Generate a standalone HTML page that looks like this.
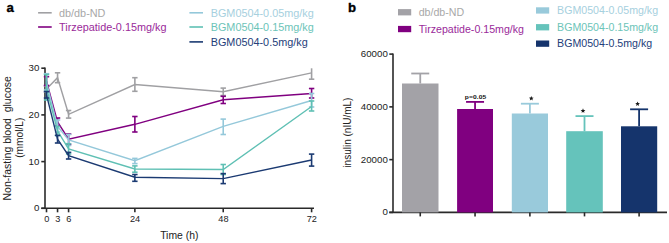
<!DOCTYPE html>
<html><head><meta charset="utf-8"><style>
html,body{margin:0;padding:0;background:#fff;width:669px;height:243px;overflow:hidden}
svg{display:block;font-family:"Liberation Sans",sans-serif}
</style></head><body>
<svg width="669" height="243" viewBox="0 0 669 243">
<line x1="45.00" y1="67.40" x2="45.00" y2="209.00" stroke="#2a2a2a" stroke-width="1.6" stroke-linecap="butt"/>
<line x1="41.30" y1="208.30" x2="314.00" y2="208.30" stroke="#2a2a2a" stroke-width="1.6" stroke-linecap="butt"/>
<line x1="41.30" y1="208.30" x2="45.00" y2="208.30" stroke="#2a2a2a" stroke-width="1.6" stroke-linecap="butt"/>
<text x="39.3" y="211.20000000000002" font-size="9.7" fill="#222" text-anchor="end" font-weight="normal" >0</text>
<line x1="41.30" y1="161.60" x2="45.00" y2="161.60" stroke="#2a2a2a" stroke-width="1.6" stroke-linecap="butt"/>
<text x="39.3" y="164.50000000000003" font-size="9.7" fill="#222" text-anchor="end" font-weight="normal" >10</text>
<line x1="41.30" y1="114.90" x2="45.00" y2="114.90" stroke="#2a2a2a" stroke-width="1.6" stroke-linecap="butt"/>
<text x="39.3" y="117.80000000000001" font-size="9.7" fill="#222" text-anchor="end" font-weight="normal" >20</text>
<line x1="41.30" y1="68.20" x2="45.00" y2="68.20" stroke="#2a2a2a" stroke-width="1.6" stroke-linecap="butt"/>
<text x="39.3" y="71.10000000000002" font-size="9.7" fill="#222" text-anchor="end" font-weight="normal" >30</text>
<line x1="46.50" y1="208.30" x2="46.50" y2="212.30" stroke="#2a2a2a" stroke-width="1.6" stroke-linecap="butt"/>
<text x="46.7" y="222.1" font-size="9.2" fill="#222" text-anchor="middle" font-weight="normal" >0</text>
<line x1="57.55" y1="208.30" x2="57.55" y2="212.30" stroke="#2a2a2a" stroke-width="1.6" stroke-linecap="butt"/>
<text x="57.74583333333334" y="222.1" font-size="9.2" fill="#222" text-anchor="middle" font-weight="normal" >3</text>
<line x1="68.59" y1="208.30" x2="68.59" y2="212.30" stroke="#2a2a2a" stroke-width="1.6" stroke-linecap="butt"/>
<text x="68.79166666666667" y="222.1" font-size="9.2" fill="#222" text-anchor="middle" font-weight="normal" >6</text>
<line x1="134.87" y1="208.30" x2="134.87" y2="212.30" stroke="#2a2a2a" stroke-width="1.6" stroke-linecap="butt"/>
<text x="135.06666666666666" y="222.1" font-size="9.2" fill="#222" text-anchor="middle" font-weight="normal" >24</text>
<line x1="223.23" y1="208.30" x2="223.23" y2="212.30" stroke="#2a2a2a" stroke-width="1.6" stroke-linecap="butt"/>
<text x="223.43333333333334" y="222.1" font-size="9.2" fill="#222" text-anchor="middle" font-weight="normal" >48</text>
<line x1="311.60" y1="208.30" x2="311.60" y2="212.30" stroke="#2a2a2a" stroke-width="1.6" stroke-linecap="butt"/>
<text x="311.8" y="222.1" font-size="9.2" fill="#222" text-anchor="middle" font-weight="normal" >72</text>
<text x="179.3" y="238.8" font-size="10.4" fill="#222" text-anchor="middle" font-weight="normal" >Time (h)</text>
<text transform="translate(10.8 138.3) rotate(-90)" font-size="10.5" fill="#222" text-anchor="middle" xml:space="preserve">Non-fasting blood  glucose</text>
<text transform="translate(22.6 137.7) rotate(-90)" font-size="10.2" fill="#222" text-anchor="middle">(mmol/L)</text>
<g>
<path d="M46.50 89.00 L57.55 77.70 L68.59 114.30 L134.87 84.50 L223.23 91.80 L311.60 72.90" fill="none" stroke="#a0a0a3" stroke-width="1.4"/>
<line x1="46.50" y1="86.00" x2="46.50" y2="92.00" stroke="#a0a0a3" stroke-width="1.6" stroke-linecap="butt"/>
<line x1="43.80" y1="86.00" x2="49.20" y2="86.00" stroke="#a0a0a3" stroke-width="1.6" stroke-linecap="butt"/>
<line x1="43.80" y1="92.00" x2="49.20" y2="92.00" stroke="#a0a0a3" stroke-width="1.6" stroke-linecap="butt"/>
<line x1="57.55" y1="72.80" x2="57.55" y2="82.70" stroke="#a0a0a3" stroke-width="1.6" stroke-linecap="butt"/>
<line x1="54.85" y1="72.80" x2="60.25" y2="72.80" stroke="#a0a0a3" stroke-width="1.6" stroke-linecap="butt"/>
<line x1="54.85" y1="82.70" x2="60.25" y2="82.70" stroke="#a0a0a3" stroke-width="1.6" stroke-linecap="butt"/>
<line x1="68.59" y1="110.50" x2="68.59" y2="118.10" stroke="#a0a0a3" stroke-width="1.6" stroke-linecap="butt"/>
<line x1="65.89" y1="110.50" x2="71.29" y2="110.50" stroke="#a0a0a3" stroke-width="1.6" stroke-linecap="butt"/>
<line x1="65.89" y1="118.10" x2="71.29" y2="118.10" stroke="#a0a0a3" stroke-width="1.6" stroke-linecap="butt"/>
<line x1="134.87" y1="77.70" x2="134.87" y2="91.30" stroke="#a0a0a3" stroke-width="1.6" stroke-linecap="butt"/>
<line x1="132.17" y1="77.70" x2="137.57" y2="77.70" stroke="#a0a0a3" stroke-width="1.6" stroke-linecap="butt"/>
<line x1="132.17" y1="91.30" x2="137.57" y2="91.30" stroke="#a0a0a3" stroke-width="1.6" stroke-linecap="butt"/>
<line x1="223.23" y1="88.10" x2="223.23" y2="95.50" stroke="#a0a0a3" stroke-width="1.6" stroke-linecap="butt"/>
<line x1="220.53" y1="88.10" x2="225.93" y2="88.10" stroke="#a0a0a3" stroke-width="1.6" stroke-linecap="butt"/>
<line x1="220.53" y1="95.50" x2="225.93" y2="95.50" stroke="#a0a0a3" stroke-width="1.6" stroke-linecap="butt"/>
<line x1="311.60" y1="68.30" x2="311.60" y2="79.20" stroke="#a0a0a3" stroke-width="1.6" stroke-linecap="butt"/>
<line x1="308.90" y1="79.20" x2="314.30" y2="79.20" stroke="#a0a0a3" stroke-width="1.6" stroke-linecap="butt"/>
<path d="M46.50 81.10 L57.55 122.00 L68.59 139.20 L134.87 124.30 L223.23 99.80 L311.60 93.50" fill="none" stroke="#800080" stroke-width="1.4"/>
<line x1="46.50" y1="76.70" x2="46.50" y2="85.50" stroke="#800080" stroke-width="1.6" stroke-linecap="butt"/>
<line x1="43.80" y1="76.70" x2="49.20" y2="76.70" stroke="#800080" stroke-width="1.6" stroke-linecap="butt"/>
<line x1="43.80" y1="85.50" x2="49.20" y2="85.50" stroke="#800080" stroke-width="1.6" stroke-linecap="butt"/>
<line x1="57.55" y1="118.00" x2="57.55" y2="126.00" stroke="#800080" stroke-width="1.6" stroke-linecap="butt"/>
<line x1="54.85" y1="118.00" x2="60.25" y2="118.00" stroke="#800080" stroke-width="1.6" stroke-linecap="butt"/>
<line x1="54.85" y1="126.00" x2="60.25" y2="126.00" stroke="#800080" stroke-width="1.6" stroke-linecap="butt"/>
<line x1="68.59" y1="134.00" x2="68.59" y2="144.40" stroke="#800080" stroke-width="1.6" stroke-linecap="butt"/>
<line x1="65.89" y1="134.00" x2="71.29" y2="134.00" stroke="#800080" stroke-width="1.6" stroke-linecap="butt"/>
<line x1="65.89" y1="144.40" x2="71.29" y2="144.40" stroke="#800080" stroke-width="1.6" stroke-linecap="butt"/>
<line x1="134.87" y1="116.50" x2="134.87" y2="132.00" stroke="#800080" stroke-width="1.6" stroke-linecap="butt"/>
<line x1="132.17" y1="116.50" x2="137.57" y2="116.50" stroke="#800080" stroke-width="1.6" stroke-linecap="butt"/>
<line x1="132.17" y1="132.00" x2="137.57" y2="132.00" stroke="#800080" stroke-width="1.6" stroke-linecap="butt"/>
<line x1="223.23" y1="96.30" x2="223.23" y2="103.50" stroke="#800080" stroke-width="1.6" stroke-linecap="butt"/>
<line x1="220.53" y1="96.30" x2="225.93" y2="96.30" stroke="#800080" stroke-width="1.6" stroke-linecap="butt"/>
<line x1="220.53" y1="103.50" x2="225.93" y2="103.50" stroke="#800080" stroke-width="1.6" stroke-linecap="butt"/>
<line x1="311.60" y1="88.50" x2="311.60" y2="98.00" stroke="#800080" stroke-width="1.6" stroke-linecap="butt"/>
<line x1="308.90" y1="88.50" x2="314.30" y2="88.50" stroke="#800080" stroke-width="1.6" stroke-linecap="butt"/>
<line x1="308.90" y1="98.00" x2="314.30" y2="98.00" stroke="#800080" stroke-width="1.6" stroke-linecap="butt"/>
<path d="M46.50 82.50 L57.55 126.50 L68.59 140.00 L134.87 160.70 L223.23 126.30 L311.60 100.50" fill="none" stroke="#94c8da" stroke-width="1.4"/>
<line x1="46.50" y1="73.70" x2="46.50" y2="90.00" stroke="#94c8da" stroke-width="1.6" stroke-linecap="butt"/>
<line x1="43.80" y1="73.70" x2="49.20" y2="73.70" stroke="#94c8da" stroke-width="1.6" stroke-linecap="butt"/>
<line x1="43.80" y1="90.00" x2="49.20" y2="90.00" stroke="#94c8da" stroke-width="1.6" stroke-linecap="butt"/>
<line x1="57.55" y1="120.00" x2="57.55" y2="132.00" stroke="#94c8da" stroke-width="1.6" stroke-linecap="butt"/>
<line x1="54.85" y1="120.00" x2="60.25" y2="120.00" stroke="#94c8da" stroke-width="1.6" stroke-linecap="butt"/>
<line x1="54.85" y1="132.00" x2="60.25" y2="132.00" stroke="#94c8da" stroke-width="1.6" stroke-linecap="butt"/>
<line x1="68.59" y1="134.50" x2="68.59" y2="145.50" stroke="#94c8da" stroke-width="1.6" stroke-linecap="butt"/>
<line x1="65.89" y1="134.50" x2="71.29" y2="134.50" stroke="#94c8da" stroke-width="1.6" stroke-linecap="butt"/>
<line x1="65.89" y1="145.50" x2="71.29" y2="145.50" stroke="#94c8da" stroke-width="1.6" stroke-linecap="butt"/>
<line x1="134.87" y1="158.40" x2="134.87" y2="163.60" stroke="#94c8da" stroke-width="1.6" stroke-linecap="butt"/>
<line x1="132.17" y1="158.40" x2="137.57" y2="158.40" stroke="#94c8da" stroke-width="1.6" stroke-linecap="butt"/>
<line x1="132.17" y1="163.60" x2="137.57" y2="163.60" stroke="#94c8da" stroke-width="1.6" stroke-linecap="butt"/>
<line x1="223.23" y1="119.10" x2="223.23" y2="134.50" stroke="#94c8da" stroke-width="1.6" stroke-linecap="butt"/>
<line x1="220.53" y1="119.10" x2="225.93" y2="119.10" stroke="#94c8da" stroke-width="1.6" stroke-linecap="butt"/>
<line x1="220.53" y1="134.50" x2="225.93" y2="134.50" stroke="#94c8da" stroke-width="1.6" stroke-linecap="butt"/>
<line x1="311.60" y1="93.50" x2="311.60" y2="107.00" stroke="#94c8da" stroke-width="1.6" stroke-linecap="butt"/>
<line x1="308.90" y1="93.50" x2="314.30" y2="93.50" stroke="#94c8da" stroke-width="1.6" stroke-linecap="butt"/>
<line x1="308.90" y1="107.00" x2="314.30" y2="107.00" stroke="#94c8da" stroke-width="1.6" stroke-linecap="butt"/>
<path d="M46.50 88.00 L57.55 131.00 L68.59 148.80 L134.87 169.00 L223.23 169.50 L311.60 106.50" fill="none" stroke="#5fc0b4" stroke-width="1.4"/>
<line x1="46.50" y1="74.50" x2="46.50" y2="100.00" stroke="#5fc0b4" stroke-width="1.6" stroke-linecap="butt"/>
<line x1="43.80" y1="74.50" x2="49.20" y2="74.50" stroke="#5fc0b4" stroke-width="1.6" stroke-linecap="butt"/>
<line x1="43.80" y1="100.00" x2="49.20" y2="100.00" stroke="#5fc0b4" stroke-width="1.6" stroke-linecap="butt"/>
<line x1="57.55" y1="126.50" x2="57.55" y2="135.50" stroke="#5fc0b4" stroke-width="1.6" stroke-linecap="butt"/>
<line x1="54.85" y1="126.50" x2="60.25" y2="126.50" stroke="#5fc0b4" stroke-width="1.6" stroke-linecap="butt"/>
<line x1="54.85" y1="135.50" x2="60.25" y2="135.50" stroke="#5fc0b4" stroke-width="1.6" stroke-linecap="butt"/>
<line x1="68.59" y1="143.70" x2="68.59" y2="154.00" stroke="#5fc0b4" stroke-width="1.6" stroke-linecap="butt"/>
<line x1="65.89" y1="143.70" x2="71.29" y2="143.70" stroke="#5fc0b4" stroke-width="1.6" stroke-linecap="butt"/>
<line x1="65.89" y1="154.00" x2="71.29" y2="154.00" stroke="#5fc0b4" stroke-width="1.6" stroke-linecap="butt"/>
<line x1="134.87" y1="165.90" x2="134.87" y2="172.20" stroke="#5fc0b4" stroke-width="1.6" stroke-linecap="butt"/>
<line x1="132.17" y1="165.90" x2="137.57" y2="165.90" stroke="#5fc0b4" stroke-width="1.6" stroke-linecap="butt"/>
<line x1="132.17" y1="172.20" x2="137.57" y2="172.20" stroke="#5fc0b4" stroke-width="1.6" stroke-linecap="butt"/>
<line x1="223.23" y1="164.50" x2="223.23" y2="174.50" stroke="#5fc0b4" stroke-width="1.6" stroke-linecap="butt"/>
<line x1="220.53" y1="164.50" x2="225.93" y2="164.50" stroke="#5fc0b4" stroke-width="1.6" stroke-linecap="butt"/>
<line x1="220.53" y1="174.50" x2="225.93" y2="174.50" stroke="#5fc0b4" stroke-width="1.6" stroke-linecap="butt"/>
<line x1="311.60" y1="101.00" x2="311.60" y2="111.00" stroke="#5fc0b4" stroke-width="1.6" stroke-linecap="butt"/>
<line x1="308.90" y1="101.00" x2="314.30" y2="101.00" stroke="#5fc0b4" stroke-width="1.6" stroke-linecap="butt"/>
<line x1="308.90" y1="111.00" x2="314.30" y2="111.00" stroke="#5fc0b4" stroke-width="1.6" stroke-linecap="butt"/>
<path d="M46.50 94.80 L57.55 139.20 L68.59 155.60 L134.87 177.20 L223.23 178.60 L311.60 160.00" fill="none" stroke="#1b3a72" stroke-width="1.4"/>
<line x1="46.50" y1="91.60" x2="46.50" y2="98.00" stroke="#1b3a72" stroke-width="1.6" stroke-linecap="butt"/>
<line x1="43.80" y1="91.60" x2="49.20" y2="91.60" stroke="#1b3a72" stroke-width="1.6" stroke-linecap="butt"/>
<line x1="43.80" y1="98.00" x2="49.20" y2="98.00" stroke="#1b3a72" stroke-width="1.6" stroke-linecap="butt"/>
<line x1="57.55" y1="135.40" x2="57.55" y2="143.00" stroke="#1b3a72" stroke-width="1.6" stroke-linecap="butt"/>
<line x1="54.85" y1="135.40" x2="60.25" y2="135.40" stroke="#1b3a72" stroke-width="1.6" stroke-linecap="butt"/>
<line x1="54.85" y1="143.00" x2="60.25" y2="143.00" stroke="#1b3a72" stroke-width="1.6" stroke-linecap="butt"/>
<line x1="68.59" y1="152.40" x2="68.59" y2="159.00" stroke="#1b3a72" stroke-width="1.6" stroke-linecap="butt"/>
<line x1="65.89" y1="152.40" x2="71.29" y2="152.40" stroke="#1b3a72" stroke-width="1.6" stroke-linecap="butt"/>
<line x1="65.89" y1="159.00" x2="71.29" y2="159.00" stroke="#1b3a72" stroke-width="1.6" stroke-linecap="butt"/>
<line x1="134.87" y1="174.50" x2="134.87" y2="181.30" stroke="#1b3a72" stroke-width="1.6" stroke-linecap="butt"/>
<line x1="132.17" y1="174.50" x2="137.57" y2="174.50" stroke="#1b3a72" stroke-width="1.6" stroke-linecap="butt"/>
<line x1="132.17" y1="181.30" x2="137.57" y2="181.30" stroke="#1b3a72" stroke-width="1.6" stroke-linecap="butt"/>
<line x1="223.23" y1="173.60" x2="223.23" y2="183.60" stroke="#1b3a72" stroke-width="1.6" stroke-linecap="butt"/>
<line x1="220.53" y1="173.60" x2="225.93" y2="173.60" stroke="#1b3a72" stroke-width="1.6" stroke-linecap="butt"/>
<line x1="220.53" y1="183.60" x2="225.93" y2="183.60" stroke="#1b3a72" stroke-width="1.6" stroke-linecap="butt"/>
<line x1="311.60" y1="154.10" x2="311.60" y2="166.10" stroke="#1b3a72" stroke-width="1.6" stroke-linecap="butt"/>
<line x1="308.90" y1="154.10" x2="314.30" y2="154.10" stroke="#1b3a72" stroke-width="1.6" stroke-linecap="butt"/>
<line x1="308.90" y1="166.10" x2="314.30" y2="166.10" stroke="#1b3a72" stroke-width="1.6" stroke-linecap="butt"/>
</g>
<text x="6.6" y="11.8" font-size="13.2" fill="#000" text-anchor="start" font-weight="bold" stroke="#000" stroke-width="0.35">a</text>
<line x1="38.10" y1="12.80" x2="51.70" y2="12.80" stroke="#a0a0a3" stroke-width="1.6" stroke-linecap="butt"/>
<text x="59.0" y="16.6" font-size="10.85" fill="#a8a8a8" text-anchor="start" font-weight="normal" >db/db-ND</text>
<line x1="38.10" y1="27.00" x2="51.70" y2="27.00" stroke="#800080" stroke-width="1.6" stroke-linecap="butt"/>
<text x="59.0" y="30.8" font-size="10.85" fill="#9a2a9a" text-anchor="start" font-weight="normal" >Tirzepatide-0.15mg/kg</text>
<line x1="189.40" y1="12.80" x2="203.00" y2="12.80" stroke="#94c8da" stroke-width="1.6" stroke-linecap="butt"/>
<text x="210.70000000000002" y="16.6" font-size="10.85" fill="#a6d0de" text-anchor="start" font-weight="normal" >BGM0504-0.05mg/kg</text>
<line x1="189.40" y1="27.00" x2="203.00" y2="27.00" stroke="#5fc0b4" stroke-width="1.6" stroke-linecap="butt"/>
<text x="210.70000000000002" y="30.8" font-size="10.85" fill="#6cc4b8" text-anchor="start" font-weight="normal" >BGM0504-0.15mg/kg</text>
<line x1="189.40" y1="41.90" x2="203.00" y2="41.90" stroke="#1b3a72" stroke-width="1.6" stroke-linecap="butt"/>
<text x="210.70000000000002" y="46.4" font-size="10.85" fill="#24407a" text-anchor="start" font-weight="normal" >BGM0504-0.5mg/kg</text>
<line x1="393.00" y1="53.50" x2="393.00" y2="213.00" stroke="#2a2a2a" stroke-width="1.6" stroke-linecap="butt"/>
<line x1="389.30" y1="212.40" x2="667.00" y2="212.40" stroke="#2a2a2a" stroke-width="1.6" stroke-linecap="butt"/>
<line x1="389.30" y1="212.40" x2="393.00" y2="212.40" stroke="#2a2a2a" stroke-width="1.6" stroke-linecap="butt"/>
<text x="387.8" y="215.4" font-size="9.7" fill="#222" text-anchor="end" font-weight="normal" >0</text>
<line x1="389.30" y1="159.63" x2="393.00" y2="159.63" stroke="#2a2a2a" stroke-width="1.6" stroke-linecap="butt"/>
<text x="387.8" y="162.63333333333333" font-size="9.7" fill="#222" text-anchor="end" font-weight="normal" >20000</text>
<line x1="389.30" y1="106.87" x2="393.00" y2="106.87" stroke="#2a2a2a" stroke-width="1.6" stroke-linecap="butt"/>
<text x="387.8" y="109.86666666666666" font-size="9.7" fill="#222" text-anchor="end" font-weight="normal" >40000</text>
<line x1="389.30" y1="54.10" x2="393.00" y2="54.10" stroke="#2a2a2a" stroke-width="1.6" stroke-linecap="butt"/>
<text x="387.8" y="57.099999999999994" font-size="9.7" fill="#222" text-anchor="end" font-weight="normal" >60000</text>
<text transform="translate(351.3 132.6) rotate(-90)" font-size="10" fill="#222" text-anchor="middle">insulin (nIU/mL)</text>
<rect x="402" y="83.5" width="36.5" height="128.9" fill="#a3a2a7"/>
<line x1="420.25" y1="73.50" x2="420.25" y2="83.50" stroke="#a3a2a7" stroke-width="1.8" stroke-linecap="butt"/>
<line x1="411.25" y1="73.50" x2="429.25" y2="73.50" stroke="#a3a2a7" stroke-width="1.8" stroke-linecap="butt"/>
<line x1="420.25" y1="212.40" x2="420.25" y2="216.40" stroke="#2a2a2a" stroke-width="1.6" stroke-linecap="butt"/>
<rect x="457.1" y="109" width="35.89999999999998" height="103.4" fill="#800080"/>
<line x1="475.05" y1="101.90" x2="475.05" y2="109.00" stroke="#800080" stroke-width="1.8" stroke-linecap="butt"/>
<line x1="466.05" y1="101.90" x2="484.05" y2="101.90" stroke="#800080" stroke-width="1.8" stroke-linecap="butt"/>
<line x1="475.05" y1="212.40" x2="475.05" y2="216.40" stroke="#2a2a2a" stroke-width="1.6" stroke-linecap="butt"/>
<text transform="translate(475.55 98.70) scale(1 0.85)" font-size="6.7" fill="#111" text-anchor="middle" font-weight="bold" letter-spacing="0.1">p=0.05</text>
<rect x="511.8" y="113.5" width="36.19999999999999" height="98.9" fill="#99cadb"/>
<line x1="529.90" y1="103.70" x2="529.90" y2="113.50" stroke="#99cadb" stroke-width="1.8" stroke-linecap="butt"/>
<line x1="520.90" y1="103.70" x2="538.90" y2="103.70" stroke="#99cadb" stroke-width="1.8" stroke-linecap="butt"/>
<line x1="529.90" y1="212.40" x2="529.90" y2="216.40" stroke="#2a2a2a" stroke-width="1.6" stroke-linecap="butt"/>
<polygon points="531.30,95.90 531.96,97.49 533.68,97.63 532.37,98.75 532.77,100.42 531.30,99.53 529.83,100.42 530.23,98.75 528.92,97.63 530.64,97.49" fill="#1a1a1a"/>
<rect x="566.2" y="131.2" width="36.59999999999991" height="81.20000000000002" fill="#65c3bb"/>
<line x1="584.50" y1="116.10" x2="584.50" y2="131.20" stroke="#65c3bb" stroke-width="1.8" stroke-linecap="butt"/>
<line x1="575.50" y1="116.10" x2="593.50" y2="116.10" stroke="#65c3bb" stroke-width="1.8" stroke-linecap="butt"/>
<line x1="584.50" y1="212.40" x2="584.50" y2="216.40" stroke="#2a2a2a" stroke-width="1.6" stroke-linecap="butt"/>
<polygon points="583.00,108.30 583.66,109.89 585.38,110.03 584.07,111.15 584.47,112.82 583.00,111.92 581.53,112.82 581.93,111.15 580.62,110.03 582.34,109.89" fill="#1a1a1a"/>
<rect x="621" y="126.3" width="36.200000000000045" height="86.10000000000001" fill="#15346c"/>
<line x1="639.10" y1="109.30" x2="639.10" y2="126.30" stroke="#15346c" stroke-width="1.8" stroke-linecap="butt"/>
<line x1="630.10" y1="109.30" x2="648.10" y2="109.30" stroke="#15346c" stroke-width="1.8" stroke-linecap="butt"/>
<line x1="639.10" y1="212.40" x2="639.10" y2="216.40" stroke="#2a2a2a" stroke-width="1.6" stroke-linecap="butt"/>
<polygon points="637.60,101.50 638.26,103.09 639.98,103.23 638.67,104.35 639.07,106.02 637.60,105.12 636.13,106.02 636.53,104.35 635.22,103.23 636.94,103.09" fill="#1a1a1a"/>
<text x="348.1" y="11.8" font-size="13.2" fill="#000" text-anchor="start" font-weight="bold" stroke="#000" stroke-width="0.35">b</text>
<rect x="398" y="9.1" width="13.2" height="6.3" fill="#a3a2a7"/>
<text x="418.7" y="15.7" font-size="10.633" fill="#a8a8a8" text-anchor="start" font-weight="normal" >db/db-ND</text>
<rect x="398" y="25.9" width="13.2" height="6.3" fill="#800080"/>
<text x="418.7" y="32.5" font-size="10.633" fill="#9a2a9a" text-anchor="start" font-weight="normal" >Tirzepatide-0.15mg/kg</text>
<rect x="536" y="7.3" width="13.2" height="6.3" fill="#99cadb"/>
<text x="557.0999999999999" y="13.899999999999999" font-size="10.633" fill="#a6d0de" text-anchor="start" font-weight="normal" >BGM0504-0.05mg/kg</text>
<rect x="536" y="24.1" width="13.2" height="6.3" fill="#65c3bb"/>
<text x="557.0999999999999" y="30.700000000000003" font-size="10.633" fill="#6cc4b8" text-anchor="start" font-weight="normal" >BGM0504-0.15mg/kg</text>
<rect x="536" y="40.5" width="13.2" height="6.3" fill="#15346c"/>
<text x="557.0999999999999" y="47.1" font-size="10.633" fill="#24407a" text-anchor="start" font-weight="normal" >BGM0504-0.5mg/kg</text>
</svg>
</body></html>
